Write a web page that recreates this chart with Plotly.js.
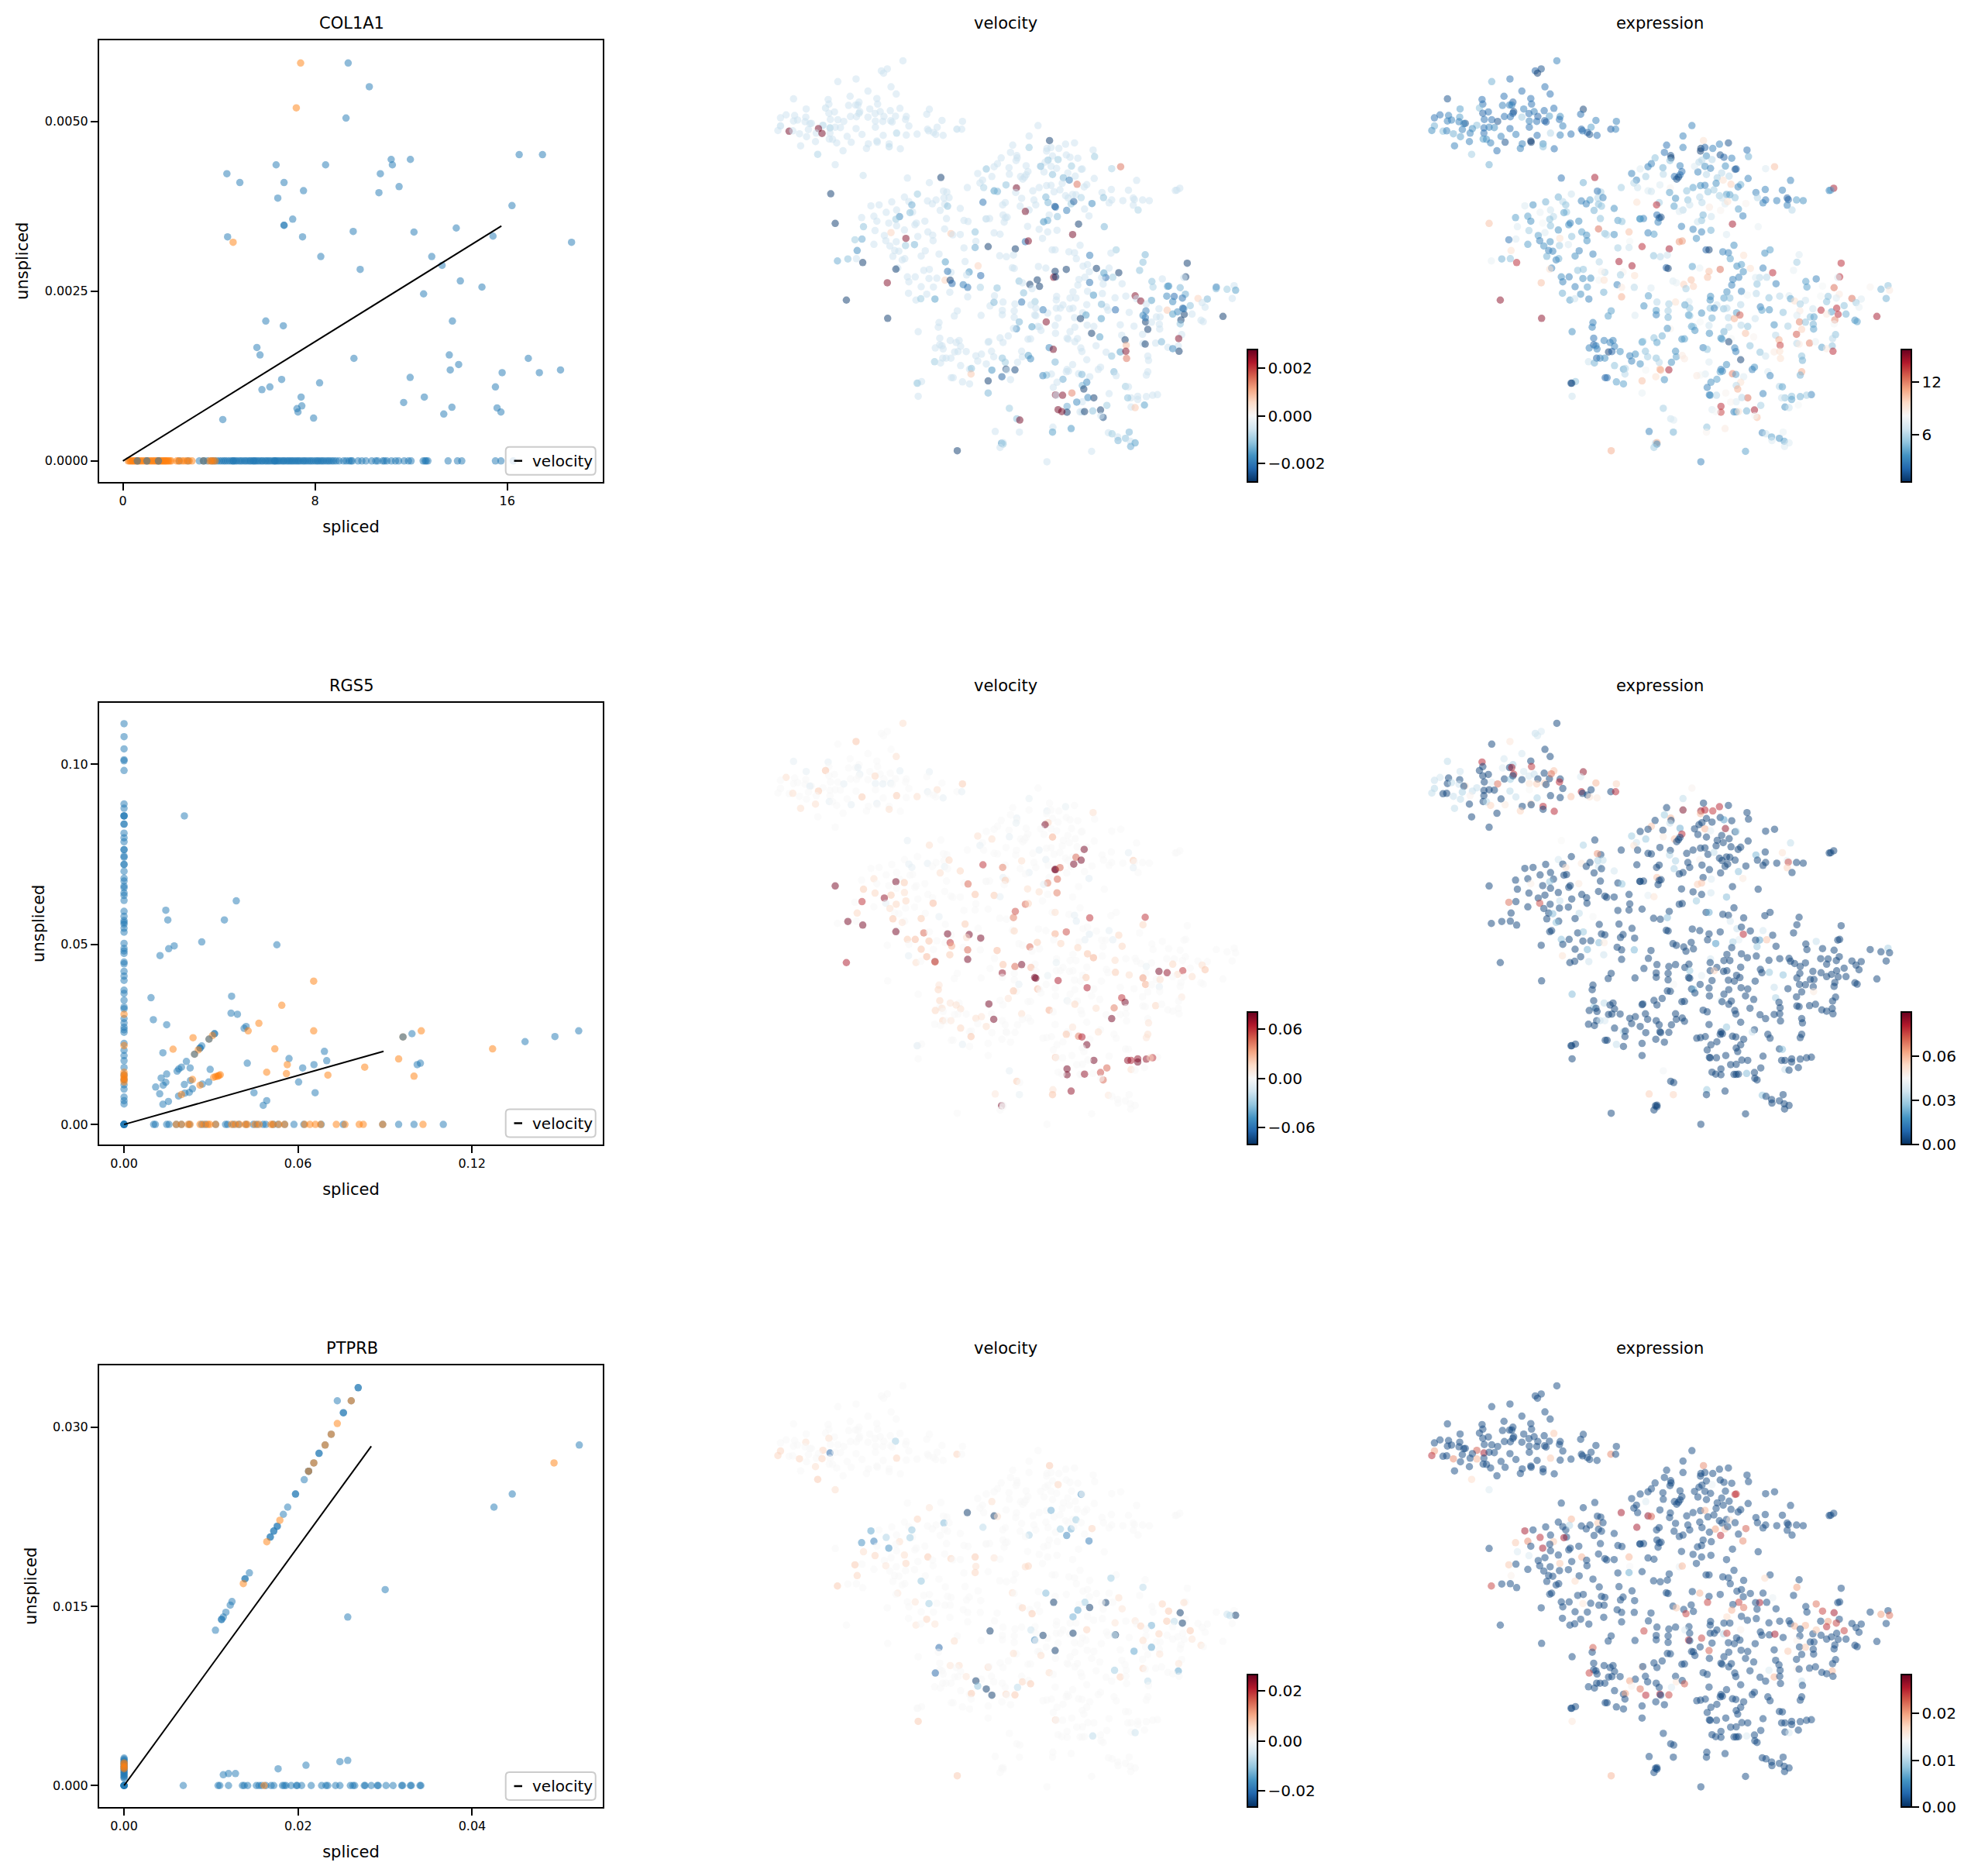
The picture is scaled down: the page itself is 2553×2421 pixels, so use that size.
<!DOCTYPE html>
<html><head><meta charset="utf-8"><script src="https://cdn.plot.ly/plotly-3.0.1.min.js"></script>
<style>html,body{margin:0;padding:0;background:#fff}</style></head><body><div id="chart"></div>
<script>
// ---------- embedding (x, y, COL1A1 expression) ----------
const col1a1Expression=[[436,186,3],[394,211,1.5],[378,217,2],[384,224,1],[261,250,4.5],[310,242,2.5],[404,266,2.5],[342,279,2.5],[418,288,2.5],[294,295,2.5],[142,303,1.5],[235,305,2.5],[366,302,2.5],[318,313,2],[237,319,2.5],[368,319,2.5],[309,322,3],[290,323,3],[176,334,4],[228,331,5],[347,334,3],[428,332,2.5],[507,335,1],[315,322,3],[320,342,1.5],[252,343,2.5],[402,339,2.5],[375,342,3],[237,347,2],[122,352,2.5],[145,354,3],[107,361,2.5],[175,359,4],[361,348,2.5],[295,357,2.5],[311,358,2.5],[318,347,2],[385,357,2],[416,356,4],[445,357,3.5],[342,359,5.5],[500,350,2.5],[241,366,2.5],[261,367,2.5],[277,372,1.5],[142,371,3],[153,368,3],[173,373,3],[190,378,1.5],[186,379,3],[362,371,3],[382,372,2.5],[403,370,2],[407,374,2],[443,366,2.5],[541,369,3],[596,372,3],[107,386,4.5],[221,384,5],[209,394,3.5],[240,392,2.5],[254,390,3],[268,391,3.5],[362,390,2.5],[310,394,2.5],[528,390,4],[452,386,3],[100,400,3.5],[130,402,5],[140,401,3],[182,397,3],[502,396,2],[518,406,2],[505,401,2.5],[524,412,1.5],[581,396,2],[594,396,3],[474,411,2.5],[419,408,6],[445,414,3],[544,415,2.5],[326,412,3],[383,415,2.5],[158,410,4.5],[203,408,3],[240,408,2.5],[286,418,3],[238,426,4],[247,427,3.5],[177,419,4],[201,434,3],[366,432,1],[367,436,1],[297,436,1.5],[258,438,3],[343,441,3],[399,441,3.5],[399,450,5],[161,447,3],[338,455,3],[429,456,2.5],[275,462,2.5],[207,473,5.5],[254,505,4.5],
[799,385,3],[775,417,3],[830,431,9.5],[873,442,3],[897,438,1.5],[731,445,2.5],[775,452,3],[823,455,1],[822,463,1],[855,455,3],[947,460,2.5],[834,452,2],[725,467,2.5],[742,477,1.5],[743,484,1],[875,475,1.5],[885,482,2],[906,485,3],[700,484,5],[740,492,5],[838,478,3.5],[826,491,6],[818,497,6],[853,489,6],[951,480,4.5],[690,502,3],[681,511,3],[767,508,3],[721,514,4.5],[834,510,3.5],[815,527,3],[849,516,3],[889,509,3.5],[1021,511,10.5],[997,517,7],[915,519,1.5],[918,518,2],[806,510,7],[660,518,7],[772,526,2.5],[879,530,6],[637,532,3],[752,541,2.5],[767,536,2.5],[758,549,1.5],[763,543,1.5],[675,541,5.5],[722,534,6],[838,535,6],[899,540,6],[867,545,5.5],[950,547,3],[1064,553,3],[650,552,3],[643,561,6],[713,567,7],[653,575,6.5],[883,552,9.5],[904,565,10],[864,562,3.5],[930,566,4.5],[923,573,3],[802,575,4],[822,569,3.5],[834,568,3],[741,576,8.5],[681,585,7],[690,587,6.5],[739,590,4],[785,585,5],[842,588,5],[858,582,5.5],[971,590,3],[996,581,3],[1042,583,3],[1168,584,3],[1180,577,14.5],[1172,583,4],[755,608,3.5],[873,600,5.5],[892,596,4],[901,597,4],[915,606,5],[880,607,6.5],
[820,604,6],[788,613,5],[826,621,6],[975,606,6],[997,613,2.5],[1027,615,3],[1055,607,2],[1058,612,2],[1080,613,4],[1098,615,3.5],[990,622,3],[711,621,5.5],[651,620,9.5],[704,628,14],[751,632,4],[793,628,6.5],[846,635,9],[888,625,7],[895,618,9.5],[944,624,8.5],[924,641,4],[1055,629,3],[1068,644,6],[775,644,6],[765,648,7],[876,645,8.5],[829,659,4.5],[851,664,6.5],[936,662,3],[660,671,3.5],[669,670,3],[705,659,2.5],[716,666,1.5],[711,668,1.5],[708,681,3],[825,676,5],[814,680,6.5],[908,687,14.5],[977,695,7.5],[771,694,3],[802,703,3],[850,706,4.5],[825,711,3],[681,714,3],[697,718,4],[892,719,7],[811,731,3.5],[765,741,11.5],[773,739,11.5],
[448,546,2.5],[538,544,14.5],[507,560,4.5],[609,575,5.5],[554,589,5.5],[545,586,2.5],[475,595,6.5],[440,604,4.5],[452,618,6],[502,616,3],[525,613,4],[515,625,3],[546,607,6],[560,606,3],[460,628,5],[406,619,4.5],[372,628,3.5],[350,631,7],[548,626,5],[556,632,5],[590,639,3.5],[462,650,5.5],[455,652,4],[419,644,6.5],[391,651,7.5],[536,645,4.5],[553,670,5],[325,667,4],[358,663,4],[366,678,3.5],[427,664,6],[417,672,5],[600,676,4],[611,679,5],[659,671,4],[495,678,3.5],[330,695,7],[398,684,8],[419,692,5],[468,689,3.5],[472,684,3],[254,685,10.5],[361,707,5.5],[440,705,3.5],[548,702,12.5],[404,713,7],[503,711,4],[516,721,3.5],[476,725,5],[565,716,5],[570,720,6],[590,719,3.5],[630,711,10.5],[386,722,4],[390,738,3],[326,733,7],[307,735,2.5],[418,741,3.5],[444,731,9.5],[517,738,3.5],[632,740,8],[630,759,6.5],[358,749,4],[401,754,3.5],[443,753,5.5],[467,750,7],[600,760,5.5],[665,756,14],[738,763,14.5],[313,768,9.5],[414,768,3],[425,770,3],[496,769,3],[533,779,3],[409,786,4.5],[485,785,3.5],[441,793,4.5],[434,797,3],[550,803,6],[603,802,14.5],[696,784,5],[714,787,6],[733,782,6.5],[837,766,2],[845,766,1],[882,772,3],[897,775,3],[912,752,3.5],[938,783,9.5],[1009,766,4],[995,776,3.5],[902,793,4],[1087,781,7],[260,800,7.5],[288,794,4.5],[311,793,5],[328,805,14],[422,822,3],[417,825,9.5],[492,829,5],[507,826,5],[565,835,6],[556,832,8.5],[614,834,8.5],[645,845,9.5],[607,843,5.5],[638,815,14.5],[730,821,2],[735,823,1],[800,817,4],[820,822,7.5],[845,832,10.5],[875,826,12.5],[920,816,3.5],[932,811,4],[956,823,9.5],[990,822,3],[937,833,3.5],[1016,836,14],[1081,804,5.5],[1200,807,14],[1072,829,7.5],
[448,849,3.5],[469,849,3],[506,854,3.5],[527,853,3.5],[549,859,8],[563,859,9.5],[452,864,3],[925,850,3],[909,857,3],[841,850,10.5],[797,858,10.5],[748,862,7],[757,867,7.5],[981,851,6],[1000,850,6],[970,851,7],[1196,849,14],[1191,851,7],[1133,855,3],[1105,863,4],[1108,880,4],[394,867,10.5],[598,873,3],[610,881,9],[644,881,6],[777,872,10],[783,885,5.5],[803,878,10],[906,874,3],[974,871,5],[1025,870,3],[1150,877,8],[1278,880,8.5],[1307,887,4.5],[1326,876,5],[1330,890,9],[1181,882,12.5],[485,879,3],[518,880,4],[689,883,7],[932,893,3],[893,895,3.5],[451,899,4.5],[500,902,3.5],[562,896,4.5],[972,900,6],[948,905,8],[1035,908,6],[1060,907,7],[1195,902,9],[1145,908,8],[610,910,11],[682,907,4],[471,920,4],[484,916,6.5],[522,917,3],[284,920,15],[849,909,3.5],[848,920,3.5],[885,914,4],[901,914,5],[1006,913,5],[1064,916,4],[1075,923,9.5],[1104,921,6.5],[1165,909,5],[1161,925,5],[1187,914,7],[1229,915,12.5],[1254,917,7],[1321,915,4.5],[705,926,6],[755,926,9.5],[791,925,7],[1090,932,5.5],[737,932,5.5],[780,935,4],[866,935,6.5],[930,934,6],[1240,928,5.5],[1208,937,5],[670,938,3.5],[1248,942,7.5],[1188,945,14],[793,945,5],[735,953,5.5],[848,945,5],[859,945,3],[884,947,5],[893,945,6],[983,941,3],[987,951,4],[1007,950,3.5],[1146,951,14],[1124,947,6.5],[1089,953,9],[582,953,4],[703,952,4],[1174,956,4],[1044,958,5],[919,959,4],[928,966,13],[574,969,4],[646,967,7],[703,965,3],[735,973,4.5],[790,966,4],[793,968,5],[825,960,3.5],[853,975,4.5],[897,974,6],[913,977,11],[969,977,6.5],[1117,972,5],[1127,972,4],[1192,964,14],[1213,963,4.5],[1161,963,9],[1237,982,3.5],[1243,986,4],[1296,970,14.5],[395,976,15],[1081,967,7],[1183,981,12],
[533,989,3],[531,1003,3],[1181,993,8],[821,987,8],[1088,987,12],[1020,996,3.5],[1057,1000,5.5],[1104,988,5],[1125,994,4.5],[1126,1009,4],[798,1001,4],[803,1002,5],[845,998,6.5],[898,1003,6],[931,997,6],[949,1001,5],[741,1008,8.5],[733,1007,3.5],[807,1013,3.5],[1094,1010,10],[477,1017,3.5],[846,1022,3.5],[885,1017,4.5],[943,1022,10.5],[965,1033,8.5],[1024,1028,6],[1080,1025,13],[1185,1026,5],[719,1030,4.5],[535,1037,2.5],[563,1044,3],[587,1044,3],[579,1050,3],[697,1036,5],[772,1040,3.5],[779,1039,4],[877,1037,3.5],[880,1040,4],[905,1038,8],[1033,1042,11],[1177,1038,6],[665,1049,4],[667,1047,5],[705,1050,4],[898,1048,1],[535,1057,2],[541,1060,3],[591,1062,3],[523,1067,3],[544,1070,3],[955,1060,5],[1036,1059,13.5],[1081,1053,6],[1087,1055,9],[1115,1052,12],[1131,1048,7.5],[1176,1061,5],[1148,1065,4],[829,1066,3],[840,1071,5],[914,1067,3],[917,1078,3],[575,1079,1],[584,1078,2],[606,1078,3.5],[674,1077,5],[755,1077,3.5],[982,1080,5],[1020,1079,9],[1035,1077,9.5],[1178,1077,14],[1161,1069,9],[647,1086,3.5],[632,1091,3],[703,1098,5],[680,1094,5.5],[757,1094,4],[773,1090,9],[997,1092,6.5],[1094,1092,5],[1096,1105,4.5],[543,1098,2],[552,1098,3],[565,1098,3.5],[637,1107,3],[779,1100,9],[930,1103,1],[1037,1099,9.5],[521,1109,6.5],[537,1113,4.5],[660,1116,3.5],[711,1111,6],[744,1111,3.5],[845,1110,7],[591,1121,5],[892,1118,3.5],[675,1135,8],[713,1132,10.5],[715,1135,11],[737,1134,14.5],[615,1132,4],[620,1130,6],[967,1126,3.5],[961,1133,3],[877,1133,3],[881,1138,3],[1003,1140,7],[1094,1140,11],[619,1147,6],[875,1140,4],[835,1147,7],[822,1150,8],[812,1152,9],[908,1146,12],[917,1148,4],[938,1155,7],[1009,1152,3],[1090,1150,4.5],[702,1155,9.5],[566,1158,2],[571,1158,2.5],[866,1163,4],[725,1164,3.5],[665,1168,10.5],[930,1172,9.5],[850,1172,3.5],[486,1170,5],[476,1175,1],[474,1175,1.5],[596,1171,4],[615,1177,4],[840,1188,3],[918,1182,6],[922,1193,11],[1034,1185,6],[1042,1186,4],[665,1205,7.5],[990,1207,3],[890,1205,8.5],[846,1211,3],[848,1212,3.5],[865,1212,6],[949,1220,12.5],[1120,1210,3],[1107,1212,5.5],[1090,1216,4.5],[1067,1215,5],[1067,1225,4],[1049,1220,5],[1040,1220,6.5],[933,1219,6],[477,1215,6.5],[918,1232,7],[903,1233,8.5],[1085,1242,8],[984,1243,5.5],[877,1246,14],[1049,1248,3.5],[1060,1250,6.5],[853,1256,7],[722,1252,5.5],[967,1257,14.5],[877,1264,13.5],[863,1262,8],[912,1263,3],[918,1263,4],[924,1262,9.5],[946,1260,4.5],[974,1280,10.5],[968,1275,8],[742,1284,6.5],[750,1288,7],[839,1310,5],[888,1314,9],[684,1323,3],[749,1325,4.5],[838,1325,8.5],[988,1327,3],[998,1330,6.5],[1013,1340,4],[1034,1344,3.5],[1044,1325,7.5],[1014,1351,7],[1047,1353,4],[1060,1358,7],[701,1359,6],[705,1357,11],[705,1362,3.5],[697,1372,5.5],[1048,1369,7],[582,1382,11],[943,1384,4],[823,1416,3]];
// ---------- per-panel cells that differ from the panel's usual colour: x, y as read in that panel, value ----------
const col1a1Velocity=[[113,401,.0024],[201,401,.0022],[198,409,.0027],[688,576,.0023],[710,646,.0022],[829,719,.0022],[717,739,.002],[408,731,.002],[361,867,.002],[782,849,.002],[764,988,.002],[987,906,.002],[1001,922,.002],[1098,1039,.002],[963,1075,.002],[965,1099,.0012],[965,1059,.0007],[781,1071,.0023],[842,565,.0012],[951,512,.0012],[372,713,.0005],[520,714,.0006],[590,815,.0005],[508,860,.0005],[1146,914,.0005],[1068,950,.0006],[572,1147,.0006],[989,1250,.0006],[827,1204,.0011],[784,1207,.002],[804,1211,.002],[792,1255,.0022],[802,1262,.0022],[695,1288,.0022],[771,431,-.0024],[497,544,-.0026],[220,594,-.0024],[229,685,-.0026],[845,687,-.0026],[298,804,-.0026],[257,920,-.0026],[362,976,-.0026],[384,824,-.0024],[685,764,-.0026],[617,755,-.0021],[711,741,-.0016],[1119,807,-.0026],[1116,849,-.0026],[785,832,-.0026],[947,835,-.0026],[740,858,-.0026],[745,878,-.0024],[721,872,-.0026],[789,849,-.0022],[814,826,-.0023],[890,823,-.0023],[1013,987,-.0026],[1019,1009,-.0025],[1104,980,-.0026],[1111,964,-.0026],[1209,970,-.0025],[1013,1055,-.0025],[962,1041,-.0026],[1099,1076,-.0026],[877,1022,-.0024],[851,975,-.0024],[663,1133,-.0026],[684,1134,-.002],[617,1168,-.0026],[538,1383,-.0026],[816,1264,-.0025],[860,1262,-.0022],[882,1221,-.0024],[858,1193,-.0024],[899,1257,-.0025],[905,1280,-.002],[778,636,-.0015],[787,633,-.0018],[603,620,-.0016],[833,617,-.0018],[815,645,-.0015],[819,550,-.0015],[878,625,-.0014],[515,832,-.0016],[519,859,-.0021],[527,869,-.0017],[555,869,-.0015],[563,880,-.0016],[598,846,-.0017],[569,834,-.0013],[508,796,-.0012],[284,768,-.0014],[875,866,-.0016],[873,782,-.0015],[913,855,-.0017],[911,837,-.0012],[878,906,-.0013],[905,933,-.001],[701,926,-.0016],[633,927,-.001],[757,950,-.0015],[952,949,-.0017],[1015,952,-.0015],[1007,966,-.0014],[1016,974,-.0015],[870,955,-.0012],[899,982,-.0012],[686,1011,-.0014],[729,1002,-.0012],[697,987,-.001],[898,1032,-.0012],[1020,917,-.0012],[1068,870,-.0014],[1072,878,-.0012],[1101,882,-.001],[1066,909,-.0014],[1075,911,-.0017],[1086,912,-.0014],[1113,903,-.0011],[1117,919,-.0016],[1091,943,-.0014],[1103,936,-.0018],[1113,947,-.0015],[1082,964,-.0012],[1103,993,-.0009],[1191,877,-.0015],[1195,885,-.001],[1241,889,-.0012],[1229,891,-.0008],[1171,918,-.001],[1133,931,-.0009],[1054,1047,-.001],[1082,1069,-.0014],[949,1081,-.0012],[926,1088,-.0009],[774,1068,-.0014],[716,1089,-.0012],[724,1102,-.0014],[785,1109,-.001],[652,1099,-.0009],[657,1113,-.0008],[626,1134,-.0013],[574,1130,-.0009],[652,1153,-.0018],[755,1152,-.0014],[764,1147,-.0009],[812,1160,-.0011],[851,1150,-.001],[867,1173,-.0014],[850,1191,-.001],[863,1220,-.0014],[841,1233,-.0014],[916,1243,-.0008],[815,1247,-.0011],[890,1262,-.0009],[1012,1240,-.0012],[970,1219,-.0009],[964,1185,-.0008],[935,1141,-.001],[617,1205,-.001],[481,1109,-.0008],[439,1175,-.0008],[670,1253,-.0008],[688,1284,-.0009],[780,1325,-.0012],[826,1315,-.0013],[972,1325,-.001],[930,1331,-.0008],[945,1352,-.001],[959,1342,-.0009],[988,1357,-.0012],[977,1369,-.0011],[654,1358,-.0013],[650,1363,-.0008],[477,912,-.0012],[445,916,-.0008],[638,884,-.0009],[597,881,-.0007],[695,862,-.0009],[708,898,-.0009],[735,924,-.0008],[1025,859,-.0009],[1012,781,-.001],[1009,805,-.0009],[999,829,-.0009],[940,766,-.0008],[933,850,-.0008],[1032,877,-.0007],[432,618,-.0011],[437,595,-.0008],[417,652,-.0009],[399,674,-.0014],[386,670,-.0008],[301,695,-.0009],[297,732,-.0011],[279,731,-.0008],[233,801,-.0011],[260,795,-.0009],[429,750,-.001],[407,754,-.0008],[586,759,-.0011],[583,711,-.0009],[512,646,-.0009],[631,585,-.0012],[638,588,-.001],[662,568,-.0009],[611,518,-.0009],[604,575,-.0007],[721,451,-.0008],[885,479,-.0008],[750,508,-.001],[765,490,-.0009],[778,535,-.0009],[794,489,-.0008],[828,511,-.0008],[811,545,-.001],[758,604,-.001],[828,624,-.0008],[851,606,-.0007],[909,606,-.0009],[777,628,-.001],[792,663,-.0009],[767,672,-.0011],[759,680,-.0013],[910,694,-.001],[996,645,-.0007],[929,516,-.0007],[536,396,-.0006],[385,409,-.0007],[185,474,-.0007],[365,450,-.0006],[219,399,-.0008],[88,381,-.0006],[198,384,-.0007],[205,331,-.0005],[291,349,-.0005],[302,538,-.0005]];
const rgs5Velocity=[[229,666,.075],[382,651,.075],[297,716,.05],[354,705,.06],[262,782,.07],[298,793,.075],[384,813,.07],[455,819,.04],[515,823,.07],[519,850,.05],[569,824,.07],[598,838,.075],[478,909,.06],[484,914,.035],[564,906,.07],[564,874,.04],[258,916,.055],[603,597,.05],[653,604,.035],[778,610,.075],[787,612,.07],[800,606,.04],[833,593,.07],[851,582,.07],[837,570,.04],[862,546,.07],[761,465,.07],[792,643,.04],[791,688,.035],[566,659,.04],[768,655,.035],[711,726,.04],[686,750,.045],[680,769,.035],[873,770,.05],[814,816,.045],[1013,767,.05],[722,865,.04],[701,922,.07],[688,930,.04],[654,953,.06],[730,962,.07],[735,966,.075],[794,975,.055],[867,998,.055],[954,1030,.05],[962,1045,.07],[937,1064,.035],[926,1095,.07],[618,1050,.07],[631,1101,.07],[1047,946,.07],[1074,935,.06],[1101,932,.05],[1016,974,.03],[852,1160,.055],[843,1156,.035],[868,1185,.07],[883,1236,.07],[916,1260,.04],[900,1275,.045],[905,1299,.04],[860,1280,.06],[816,1263,.07],[816,1282,.07],[826,1336,.06],[652,1382,.07],[970,1235,.06],[978,1235,.055],[992,1230,.06],[995,1242,.07],[1016,1232,.06],[1037,1227,.05],[401,135,.012],[282,194,.02],[384,243,.012],[206,287,.02],[104,313,.012],[329,307,.015],[552,333,.018],[187,357,.018],[142,413,.012],[297,376,.018],[384,372,.018],[437,374,.012],[487,353,.012],[365,415,.012],[121,365,.012],[179,398,.012],[468,534,.012],[590,503,.012],[625,514,.012],[779,507,.025],[769,456,.015],[516,583,.015],[546,617,.015],[495,624,.012],[702,584,.012],[984,583,.018],[881,427,.012],[327,643,.012],[406,655,.018],[301,677,.018],[329,690,.015],[403,688,.012],[373,706,.018],[382,726,.015],[408,716,.015],[476,722,.022],[583,694,.02],[631,696,.018],[661,646,.018],[717,676,.012],[745,685,.012],[717,723,.015],[284,754,.015],[375,774,.02],[367,740,.012],[446,772,.018],[398,786,.01],[557,791,.018],[682,813,.015],[785,823,.025],[784,752,.012],[947,827,.015],[1009,792,.015],[802,854,.015],[740,851,.018],[955,863,.015],[843,868,.015],[867,888,.02],[877,902,.025],[937,910,.012],[412,840,.018],[432,847,.022],[467,846,.02],[446,873,.02],[526,862,.025],[518,890,.018],[461,897,.022],[434,915,.012],[562,833,.012],[639,878,.022],[653,922,.02],[724,933,.022],[937,948,.018],[863,965,.018],[973,957,.012],[1017,974,.025],[1050,973,.012],[1082,921,.015],[1095,955,.012],[1132,962,.012],[1157,926,.012],[1164,939,.02],[492,1005,.015],[491,988,.01],[680,1010,.02],[742,1006,.022],[667,1032,.01],[837,1052,.015],[889,1065,.012],[1040,1057,.015],[494,1041,.015],[484,1072,.015],[500,1070,.012],[520,1049,.01],[547,1069,.012],[535,1055,.012],[503,1105,.015],[521,1105,.008],[585,1099,.012],[600,1094,.01],[612,1125,.012],[546,1131,.015],[572,1157,.02],[701,1085,.012],[773,1074,.025],[815,1155,.02],[829,1130,.01],[895,1143,.012],[1019,1152,.012],[1016,1162,.01],[1021,1112,.01],[783,1223,.02],[689,1303,.018],[780,1330,.01],[780,1348,.02],[634,1347,.008],[921,1350,.008],[978,1264,.012],[1028,1227,.015],[1105,1029,.008],[124,260,-.007],[212,261,-.007],[156,293,-.007],[288,278,-.007],[294,292,-.007],[393,291,-.007],[467,293,-.007],[167,341,-.008],[250,335,-.007],[330,330,-.007],[349,335,-.007],[367,329,-.007],[551,358,-.007],[503,379,-.007],[463,357,-.007],[215,390,-.007],[271,400,-.007],[335,396,-.008],[720,380,-.006],[813,408,-.006],[764,423,-.007],[689,445,-.007],[686,460,-.006],[672,499,-.007],[748,549,-.007],[760,580,-.007],[597,533,-.007],[971,558,-.007],[983,605,-.007],[412,517,-.007],[433,592,-.007],[463,592,-.007],[423,607,-.007],[512,606,-.006],[718,621,-.007],[654,638,-.007],[871,641,-.008],[758,660,-.007],[645,701,-.007],[357,721,-.007],[491,765,-.007],[834,762,-.007],[839,780,-.008],[873,823,-.008],[860,843,-.007],[932,841,-.007],[921,812,-.007],[414,893,-.007],[788,912,-.006],[696,987,-.007],[766,958,-.006],[1049,997,-.007],[817,1044,-.006],[1016,931,-.006],[438,1188,-.008],[551,1184,-.007],[669,1269,-.007],[695,1347,-.006]];
const ptprbVelocity=[[564,536,-.024],[631,548,-.024],[619,923,-.024],[789,827,-.024],[875,846,-.024],[912,838,-.023],[1102,863,-.024],[1117,903,-.024],[953,933,-.024],[829,929,-.024],[757,937,-.024],[785,987,-.024],[736,954,-.015],[1241,870,-.024],[586,1086,-.024],[612,1113,-.024],[626,1131,-.024],[483,1060,-.018],[492,977,-.018],[218,348,-.018],[296,635,-.014],[327,631,-.016],[320,596,-.012],[364,651,-.014],[505,572,-.01],[432,582,-.009],[359,617,-.007],[420,620,-.008],[603,585,-.006],[386,289,-.008],[447,760,-.009],[466,833,-.008],[761,798,-.01],[843,855,-.012],[830,878,-.011],[815,611,-.015],[871,628,-.016],[827,589,-.011],[801,590,-.008],[837,557,-.008],[775,530,-.011],[849,478,-.014],[719,609,-.007],[927,750,-.008],[1008,780,-.006],[865,833,-.008],[1020,900,-.011],[1089,895,-.006],[938,936,-.005],[724,919,-.005],[985,990,-.012],[1030,975,-.012],[938,1051,-.008],[1097,1055,-.012],[1020,1087,-.006],[589,1103,-.009],[690,1107,-.006],[881,1265,-.006],[989,1255,-.005],[1219,869,-.005],[1230,872,-.006],[88,330,.005],[90,339,.005],[212,285,.004],[156,308,.004],[198,332,.005],[198,360,.005],[139,361,.005],[179,385,.004],[185,428,.006],[229,460,.004],[384,358,.005],[536,345,.005],[771,383,.006],[794,443,.005],[626,500,.004],[467,520,.003],[438,557,.005],[638,550,.004],[878,589,.005],[391,632,.004],[301,664,.004],[329,677,.005],[279,703,.006],[355,708,.003],[403,676,.004],[408,703,.005],[465,680,.006],[519,683,.005],[583,681,.006],[583,713,.004],[586,732,.005],[630,684,.003],[710,712,.004],[717,711,.005],[284,742,.005],[234,777,.006],[387,799,.003],[432,833,.003],[680,799,.004],[704,847,.005],[727,868,.006],[947,814,.004],[955,851,.003],[866,918,.005],[937,897,.003],[1001,905,.005],[988,889,.003],[1057,835,.005],[1069,851,.006],[1114,830,.004],[1076,894,.006],[1057,918,.005],[1128,922,.006],[1132,949,.003],[1158,973,.004],[1007,956,.004],[1049,997,.003],[680,997,.004],[750,1001,.004],[530,955,.004],[461,885,.005],[482,901,.003],[433,903,.003],[616,1041,.005],[543,1036,.004],[520,1035,.003],[1011,1046,.005],[1099,1030,.003],[771,1060,.004],[949,1073,.005],[704,1088,.005],[724,1097,.006],[557,1082,.003],[660,1125,.005],[685,1134,.006],[574,1128,.006],[787,1212,.005],[439,1218,.006],[538,1396,.006]];
const rgs5Expression=[[379,169,.034],[384,176,.036],[394,162,.037],[310,195,.051],[142,260,.033],[294,250,.036],[342,233,.036],[235,261,.08],[366,277,.078],[315,280,.083],[322,292,.08],[291,280,.038],[176,293,.035],[317,270,.03],[346,292,.036],[427,291,.058],[421,300,.07],[373,301,.034],[360,308,.036],[107,321,.034],[122,312,.036],[153,330,.033],[172,334,.035],[105,342,.032],[190,342,.052],[279,336,.07],[265,330,.04],[311,319,.028],[362,331,.052],[381,335,.056],[401,330,.055],[443,325,.08],[500,309,.038],[507,292,.085],[541,330,.06],[596,333,.055],[100,363,.033],[183,360,.03],[203,371,.047],[159,374,.034],[178,383,.033],[209,355,.034],[222,345,.034],[245,389,.032],[311,355,.032],[327,375,.034],[384,379,.03],[258,403,.055],[297,399,.05],[367,397,.053],[338,420,.055],[399,405,.08],[429,422,.08],[162,412,.033],[501,356,.08],[595,358,.08],[475,374,.058],[524,378,.052],[544,379,.05],[360,352,.045],[799,346,.047],[775,380,.033],[775,417,.088],[823,420,.085],[833,420,.08],[855,421,.078],[873,408,.08],[822,433,.06],[725,433,.028],[743,441,.06],[690,471,.058],[767,477,.022],[881,447,.02],[889,478,.085],[834,479,.06],[850,485,.04],[738,460,.034],[637,503,.028],[675,513,.027],[650,522,.035],[644,533,.052],[725,500,.05],[753,512,.058],[772,499,.08],[507,533,.03],[448,517,.045],[1064,525,.033],[1043,557,.052],[1055,582,.04],[1060,588,.075],[1055,606,.055],[969,564,.024],[918,488,.03],[738,565,.032],[755,584,.03],[751,609,.03],[816,578,.047],[924,619,.026],[859,560,.033],[545,561,.065],[555,580,.033],[560,582,.03],[440,579,.036],[591,616,.036],[548,604,.035],[460,606,.052],[501,592,.05],[705,637,.058],[851,643,.038],[936,641,.05],[826,655,.058],[815,661,.056],[695,700,.052],[681,695,.04],[850,689,.036],[892,703,.025],[811,715,.028],[365,659,.048],[416,652,.027],[612,660,.027],[495,658,.05],[307,717,.07],[387,724,.075],[497,753,.033],[532,766,.044],[427,757,.025],[442,715,.034],[733,769,.026],[843,753,.022],[902,780,.037],[433,785,.027],[920,806,.034],[990,811,.036],[938,824,.08],[1002,841,.058],[982,843,.02],[974,862,.028],[509,816,.027],[447,840,.026],[518,873,.024],[549,852,.025],[570,862,.05],[561,890,.035],[644,875,.024],[450,893,.052],[909,847,.03],[929,845,.04],[863,854,.018],[1133,847,.034],[1326,867,.03],[850,907,.036],[524,915,.035],[859,942,.055],[793,944,.028],[823,958,.04],[1007,948,.027],[1044,958,.026],[1126,1006,.05],[750,987,.044],[800,1008,.024],[1020,997,.034],[1024,1030,.03],[478,1019,.025],[877,1042,.038],[563,1047,.033],[535,1062,.028],[554,1105,.034],[567,1105,.037],[615,1140,.032],[596,1184,.034],[892,1129,.027],[961,1145,.035],[1041,1198,.026],[1049,1265,.034],[722,1268,.043],[946,1277,.025],[839,1331,.028],[988,1349,.027],[684,1346,.056],[749,1347,.055]];
const ptprbExpression=[[105,330,.02],[107,338,.025],[159,361,.021],[221,332,.023],[221,361,.019],[241,347,.026],[419,359,.018],[207,428,.017],[254,461,.012],[581,345,.021],[425,290,.018],[829,383,.021],[854,445,.013],[676,500,.012],[913,477,.025],[918,476,.024],[834,530,.019],[609,536,.026],[683,549,.027],[688,549,.023],[475,558,.019],[545,572,.018],[652,583,.026],[470,578,.01],[350,596,.026],[391,617,.025],[325,635,.018],[358,630,.021],[397,651,.026],[426,630,.018],[456,617,.026],[330,664,.012],[361,677,.012],[504,680,.019],[630,681,.019],[771,712,.019],[765,713,.013],[631,712,.014],[632,732,.007],[444,702,.018],[307,705,.018],[313,742,.015],[995,751,.017],[485,760,.017],[260,777,.024],[819,798,.019],[1016,813,.013],[1082,780,.02],[506,833,.016],[849,827,.024],[927,830,.024],[938,846,.022],[980,838,.026],[759,848,.018],[783,869,.024],[906,855,.019],[892,878,.017],[1133,834,.022],[1147,851,.024],[1181,863,.026],[1307,869,.02],[1330,871,.022],[1160,893,.02],[1166,895,.025],[1094,899,.019],[1074,905,.019],[1197,904,.024],[1209,921,.024],[1133,919,.018],[930,919,.015],[779,919,.012],[670,923,.024],[892,929,.024],[884,932,.01],[815,937,.024],[1022,933,.026],[791,954,.025],[1080,955,.015],[1104,975,.018],[533,977,.023],[1057,989,.018],[844,987,.023],[877,611,.025],[890,589,.018],[944,589,.023],[862,590,.02],[936,629,.021],[897,563,.016],[665,1041,.017],[1082,1048,.015],[524,1060,.024],[1006,1051,.012],[1176,1053,.019],[1019,1073,.019],[632,1086,.02],[757,1089,.016],[779,1098,.023],[637,1103,.015],[743,1107,.012],[1095,1087,.011],[660,1112,.022],[620,1127,.02],[675,1131,.025],[711,1126,.026],[738,1133,.024],[477,1217,.016],[1062,1257,.012],[946,1266,.012],[582,1396,.019]];
// usual cell value per panel, and a correction for colours first read too pale
const usualValue={col1a1Velocity:-.0006,rgs5Velocity:0,ptprbVelocity:0,rgs5Expression:.003,ptprbExpression:.0012};
const readingCorrection={col1a1Velocity:[1.3,.0027],rgs5Velocity:[1.2,.078],ptprbVelocity:[1.2,.026]};

// ---------- phase portraits ----------
const genes=["COL1A1","RGS5","PTPRB"];
const colBlue=[[9.38,.00586],[10.26,.00551],[9.29,.00505],[16.5,.00451],[17.47,.00451],[11.17,.00444],[11.97,.00444],[6.38,.00436],[8.44,.00436],[11.22,.00436],[4.33,.00423],[10.72,.00423],[4.87,.0041],[6.71,.0041],[11.5,.00404],[7.52,.00398],[10.66,.00395],[6.45,.00387],[16.2,.00376],[7.07,.00356],[6.71,.00347],[6.71,.00347],[13.88,.00343],[9.59,.00338],[12.12,.00337],[4.36,.0033],[7.48,.0033],[15.41,.00331],[18.68,.00322],[8.24,.00301],[12.86,.00301],[13.29,.00288],[9.88,.00282],[14.05,.00265],[14.95,.00256],[12.52,.00246],[5.95,.00206],[13.72,.00206],[6.68,.00199],[5.58,.00167],[5.71,.00156],[13.59,.00156],[9.62,.00151],[16.88,.00151],[13.98,.00142],[13.63,.00134],[18.22,.00134],[15.79,.0013],[17.34,.0013],[11.96,.00123],[6.61,.0012],[8.19,.00115],[6.12,.00109],[15.51,.00109],[5.79,.00105],[7.42,.00094],[12.55,.00094],[11.69,.00086],[7.45,.00081],[13.7,.00079],[7.25,.00077],[15.58,.00078],[7.29,.00072],[15.74,.00072],[13.36,.00069],[7.94,.00063],[4.16,.00061]];
const colOrange=[[7.4,.00586],[7.22,.0052],[4.59,.00322]];
const colBlueAtZero=[.62,1.0,1.48,2.35,2.71,3.18,3.38,3.52,3.7,3.81,3.92,4.02,4.11,4.2,4.27,4.36,4.45,4.53,4.6,4.68,4.74,4.83,4.9,4.97,5.06,5.12,5.2,5.28,5.33,5.41,5.5,5.56,5.63,5.7,5.78,5.83,5.92,5.98,6.05,6.11,6.19,6.27,6.33,6.4,6.46,6.52,6.6,6.67,6.72,6.8,6.87,6.93,7.0,7.06,7.13,7.2,7.27,7.33,7.4,7.49,7.55,7.62,7.7,7.78,7.85,7.93,8.02,8.09,8.15,8.23,8.3,8.37,8.46,8.54,8.61,8.7,8.78,8.88,9.0,9.19,9.3,9.42,9.5,9.55,9.79,9.95,10.12,10.36,10.53,10.61,10.82,10.89,10.99,11.18,11.35,11.48,11.71,11.89,12.0,12.5,12.58,12.63,12.7,13.54,13.93,14.11,15.51,15.74,16.25];
const colOrangeAtZero=[.22,.28,.33,.38,.42,.47,.52,.57,.63,.7,.76,.83,.9,.97,1.05,1.12,1.18,1.24,1.3,1.36,1.42,1.47,1.53,1.58,1.63,1.67,1.72,1.76,1.8,1.85,1.9,1.96,2.02,2.24,2.32,2.45,2.55,2.66,2.76,2.88,3.35,3.6,3.68,3.75,3.84];
const colLateBlueAtZero=[.6,1.0,1.48,3.35,4.6,5.45,6.33];
const rgsBlue=[[.0208,.0857],[.0387,.0621],[.0144,.0595],[.0151,.0568],[.0346,.0568],[.0268,.0507],[.0527,.0499],[.0173,.0496],[.0154,.0488],[.0124,.0469],[.0093,.0352],[.0371,.0356],[.0369,.0309],[.0391,.0306],[.0101,.0291],[.0147,.0277],[.0421,.0272],[.0414,.0267],[.0312,.0252],[.0312,.0252],[.0993,.0252],[.1568,.026],[.1486,.0244],[.1383,.023],[.0268,.0218],[.0262,.0212],[.0262,.0212],[.0691,.0203],[.0134,.0199],[.0569,.0183],[.0699,.0177],[.0215,.0175],[.0425,.017],[.0655,.0166],[.1022,.017],[.1011,.0166],[.0198,.0159],[.0189,.0154],[.0183,.0148],[.0228,.0157],[.0616,.0157],[.0297,.0153],[.0147,.014],[.0128,.0129],[.0144,.0117],[.0602,.0118],[.0109,.0104],[.0135,.0109],[.0208,.0111],[.0229,.0122],[.027,.0112],[.0292,.0118],[.0236,.0099],[.0123,.0085],[.0225,.0089],[.0448,.0088],[.0659,.0088],[.021,.0087],[.0188,.0079],[.0153,.0064],[.0492,.0066],[.0134,.0056],[.048,.0053]];
const rgsOrange=[[.0654,.0398],[.0544,.0331],[.0465,.0281],[.0654,.026],[.1025,.026],[.0428,.026],[.0238,.0241],[.0305,.0247],[.0293,.0237],[.0962,.0243],[.0256,.0207],[.0169,.0209],[.052,.021],[.1271,.021],[.0243,.0195],[.0947,.0182],[.0563,.0166],[.083,.0159],[.0492,.0145],[.056,.0141],[.0703,.0137],[.1,.0134],[.0309,.0131],[.0316,.0133],[.0323,.0134],[.0327,.0136],[.0332,.0138],[.0236,.0125],[.0262,.0109],[.0198,.0083]];
const rgsLateBlue=[[.0293,.0237],[.0962,.0243],[.0243,.0195]];
const rgsBlueOnY=[.1113,.1077,.1043,.1013,.101,.0983,.089,.0878,.0857,.0857,.0857,.0834,.0834,.0809,.0796,.0785,.0763,.0763,.0745,.0742,.0722,.0722,.0703,.0684,.0676,.0662,.0657,.0643,.0636,.0622,.0592,.0578,.0566,.0561,.0556,.0545,.0534,.0503,.0489,.0482,.0475,.0451,.0446,.0425,.0412,.04,.0373,.0364,.0345,.0326,.0321,.0294,.0282,.027,.0263,.0256,.0225,.0206,.0191,.0177,.0158,.0138,.0124,.011,.0098,.0076,.0066,.0057,0,0,0,0,0,0];
const rgsOrangeOnY=[.0306,.0219,.0145,.0138,.0133,.0128,.0124,.0118];
const rgsBlueOnX=[.0102,.0108,.0147,.0155,.018,.0198,.0225,.0268,.0282,.0316,.035,.0357,.0377,.0395,.0421,.0446,.0459,.048,.0489,.0514,.0531,.0554,.0586,.062,.068,.0756,.0892,.0947,.1,.1101];
const rgsOrangeOnX=[.018,.0198,.0221,.0228,.0262,.0275,.0289,.0296,.0316,.0371,.0384,.0398,.0418,.0425,.0452,.0466,.0507,.0514,.0534,.0554,.0623,.0641,.066,.0678,.0732,.0762,.0811,.0825,.0892,.1031];
const ptpBlue=[[.0269,.0333],[.0269,.0333],[.0245,.0322],[.0261,.0322],[.0252,.0312],[.0252,.0312],[.0238,.0294],[.0231,.0285],[.0523,.0285],[.0224,.0278],[.0224,.0278],[.0218,.027],[.0212,.0263],[.0212,.0263],[.0207,.0256],[.0197,.0244],[.0197,.0244],[.0446,.0244],[.0188,.0233],[.0425,.0233],[.0183,.0227],[.0176,.0217],[.0176,.0217],[.0172,.0213],[.0172,.0213],[.0168,.0208],[.0168,.0208],[.0144,.0178],[.0139,.0173],[.0139,.0173],[.03,.0164],[.0124,.0154],[.0122,.0151],[.0117,.0145],[.0257,.0141],[.0114,.0141],[.0112,.0139],[.0112,.0139],[.0105,.013],[.0257,.0021],[.0248,.002],[.0209,.0017],[.0177,.0014],[.0128,.001],[.012,.001],[.0114,.0009]];
const ptpOrange=[[.0261,.0322],[.0245,.0303],[.0238,.0294],[.0231,.0285],[.0494,.027],[.0218,.027],[.0212,.0263],[.0179,.0222],[.0164,.0204],[.0137,.0169]];
const ptpBlueOnY=[.0023,.0022,.0021,.002,.0019,.0018,.0017,.0016,.0015,.0014,.0013,.0012,.0011,.001,.0009,.0008,.0007,.0006,0,0,0,0,0,0];
const ptpOrangeOnY=[.0019,.0018,.0016,.0015,.0014];
const ptpBlueOnX=[.0068,.0108,.011,.012,.0136,.0138,.0142,.0152,.0155,.0158,.0163,.0169,.0172,.0182,.0184,.0186,.0192,.0198,.0199,.0204,.0215,.0227,.0232,.0234,.0243,.0248,.026,.0263,.0265,.0276,.0277,.0284,.0291,.0292,.0301,.0309,.0319,.032,.0329,.033,.034,.0341];
const ptpOrangeOnX=[.0161];
const velocityLineEnd={COL1A1:[15.76,.00346],RGS5:[.0895,.0203],PTPRB:[.0284,.0284]};

// colour scale (RdBu reversed) and colour-bar data
const rdbuR=["#053061","#2166ac","#4393c3","#92c5de","#d1e5f0","#f7f7f7","#fddbc7","#f4a582","#d6604d","#b2182b","#67001f"];
const colorscale=rdbuR.map((c,i)=>[i/10,c]);
const scaleVelocity=[[-.00278,.00278,[-.002,0,.002],".3f"],[-.0805,.0805,[-.06,0,.06],".2f"],[-.0265,.0265,[-.02,0,.02],".2f"]];
const scaleExpression=[[.67,15.7,[6,12],"d"],[0,.0897,[0,.03,.06],".2f"],[0,.0283,[0,.01,.02],".2f"]];

// ---------- layout geometry ----------
const W=2553,H=2421,PH=570.5,PW=650;
const rowTop=[51.5,906.5,1761.5],colLeft=[128,972,1816];
const readX=[null,x=>1.0622*x+8.3,x=>x];
const readY=[y=>y,y=>.9395*y+59.4,y=>.9395*y+71.3];
const embedRangeX=[33.3,1386.6],embedRangeY=[1477.9,122.1];
const axisRanges=[
 {x:[-.987,19.98],y:[-.00031,.0062],xt:[0,8,16],yt:[0,.0025,.005],xf:"d",yf:".4f"},
 {x:[-.00858,.1651],y:[-.00557,.1172],xt:[0,.06,.12],yt:[0,.05,.1],xf:".2f",yf:".2f"},
 {x:[-.00286,.055],y:[-.0018,.0352],xt:[0,.02,.04],yt:[0,.015,.03],xf:".2f",yf:".3f"}];
const embX=col1a1Expression.map(c=>c[0]),embY=col1a1Expression.map(c=>c[1]);

// join a panel's read cells onto the embedding by nearest cell
function panelCells(list,row,col,usual,correction){
 const [gain,limit]=correction||[1,Infinity];
 const xs=embX.slice(),ys=embY.slice(),vs=embX.map(()=>usual),used=embX.map(()=>false);
 list.forEach(([a,b,raw])=>{
  const v=Math.max(-limit,Math.min(limit,raw*gain));
  const x=readX[col](a),y=readY[row](b);let best=-1,bd=225;
  for(let i=0;i<embX.length;i++){if(used[i])continue;const d=(embX[i]-x)**2+(embY[i]-y)**2;if(d<bd){bd=d;best=i;}}
  if(best>=0){used[best]=true;vs[best]=v;}else{xs.push(x);ys.push(y);vs.push(v);}
 });
 return {xs,ys,vs};
}

const data=[],annotations=[],shapes=[],layout={width:W,height:H,margin:{l:0,r:0,t:0,b:0},showlegend:false,paper_bgcolor:"#fff",plot_bgcolor:"#fff",font:{family:"DejaVu Sans",color:"#000"},annotations,shapes};
const DOT=9.5,ALPHA=.5;
const dom=(l,s,T)=>[l/T,(l+s)/T];
const px=x=>x/W,py=y=>1-y/H;
function addAxes(id,row,col,visible,r){
 const xk="xaxis"+(id==1?"":id),yk="yaxis"+(id==1?"":id);
 const top=rowTop[row];
 const common={domain:null,showgrid:false,zeroline:false};
 layout[xk]=Object.assign({},common,{domain:dom(colLeft[col],PW,W),anchor:"y"+(id==1?"":id)});
 layout[yk]=Object.assign({},common,{domain:[1-(top+PH)/H,1-top/H],anchor:"x"+(id==1?"":id)});
 if(visible){
  const ax={showline:true,mirror:true,linewidth:2,linecolor:"#000",ticks:"outside",ticklen:9,tickwidth:2,tickcolor:"#000",tickfont:{size:16},tickmode:"array"};
  Object.assign(layout[xk],ax,{range:r.x,tickvals:r.xt,tickformat:r.xf,title:{text:"spliced",font:{size:21},standoff:17.5}});
  Object.assign(layout[yk],ax,{range:r.y,tickvals:r.yt,tickformat:r.yf,title:{text:"unspliced",font:{size:21},standoff:15}});
 }else{
  layout[xk].visible=false;layout[yk].visible=false;
  layout[xk].range=embedRangeX;layout[yk].range=embedRangeY;
 }
}
function dots(id,xs,ys,color){data.push({type:"scatter",mode:"markers",xaxis:"x"+(id==1?"":id),yaxis:"y"+(id==1?"":id),x:xs,y:ys,hoverinfo:"skip",marker:{size:DOT,color,opacity:ALPHA,line:{width:0}}});}
function title(text,col,row){annotations.push({text,xref:"paper",yref:"paper",x:(colLeft[col]+PW/2+1)/W,y:1-(rowTop[row]-21.5)/H,xanchor:"center",yanchor:"middle",showarrow:false,font:{size:21}});}
function legendBox(cy){
 const l=652.7,r=768.7,t=cy-18,b=cy+18,c=5;
 const xf=v=>px(v).toFixed(5),yf=v=>py(v).toFixed(5);
 shapes.push({type:"path",xref:"paper",yref:"paper",path:`M${xf(l+c)} ${yf(t)}L${xf(r-c)} ${yf(t)}Q${xf(r)} ${yf(t)} ${xf(r)} ${yf(t+c)}L${xf(r)} ${yf(b-c)}Q${xf(r)} ${yf(b)} ${xf(r-c)} ${yf(b)}L${xf(l+c)} ${yf(b)}Q${xf(l)} ${yf(b)} ${xf(l)} ${yf(b-c)}L${xf(l)} ${yf(t+c)}Q${xf(l)} ${yf(t)} ${xf(l+c)} ${yf(t)}Z`,fillcolor:"rgba(255,255,255,.8)",line:{color:"#cccccc",width:2}});
 shapes.push({type:"line",xref:"paper",yref:"paper",x0:px(663.5),x1:px(674),y0:py(cy),y1:py(cy),line:{color:"#000",width:2.5}});
 annotations.push({text:"velocity",xref:"paper",yref:"paper",x:px(684.5),y:py(cy),xanchor:"left",yanchor:"middle",showarrow:false,font:{size:20}});
}
const blue="#1f77b4",orange="#ff7f0e";
const scatterSets=[
 {blue:colBlue.concat(colBlueAtZero.map(x=>[x,0])),orange:colOrange.concat(colOrangeAtZero.map(x=>[x,0])),late:colLateBlueAtZero.map(x=>[x,0])},
 {blue:rgsBlue.concat(rgsBlueOnY.map(y=>[0,y]),rgsBlueOnX.map(x=>[x,0])),orange:rgsOrange.concat(rgsOrangeOnY.map(y=>[0,y]),rgsOrangeOnX.map(x=>[x,0])),late:rgsLateBlue},
 {blue:ptpBlue.concat(ptpBlueOnY.map(y=>[0,y]),ptpBlueOnX.map(x=>[x,0])),orange:ptpOrange.concat(ptpOrangeOnY.map(y=>[0,y]),ptpOrangeOnX.map(x=>[x,0])),late:[]}];
const velLists=[[col1a1Velocity,usualValue.col1a1Velocity,readingCorrection.col1a1Velocity],[rgs5Velocity,usualValue.rgs5Velocity,readingCorrection.rgs5Velocity],[ptprbVelocity,usualValue.ptprbVelocity,readingCorrection.ptprbVelocity]];
const expLists=[null,[rgs5Expression,usualValue.rgs5Expression],[ptprbExpression,usualValue.ptprbExpression]];
const legendY=[594.7,1449.5,2305];

function embed(id,row,col,cells,sc){
 const side=col==1?colLeft[1]+638:colLeft[2]+638;
 data.push({type:"scatter",mode:"markers",xaxis:"x"+id,yaxis:"y"+id,x:cells.xs,y:cells.ys,hoverinfo:"skip",
  marker:{size:DOT,opacity:ALPHA,line:{width:0},color:cells.vs,colorscale,cmin:sc[0],cmax:sc[1],showscale:true,
   colorbar:{x:side/W,xanchor:"left",xref:"paper",yref:"paper",y:1-(rowTop[row]+PH)/H,yanchor:"bottom",lenmode:"pixels",len:171,thicknessmode:"pixels",thickness:13,xpad:0,ypad:0,outlinewidth:2,outlinecolor:"#000",borderwidth:0,ticks:"outside",ticklen:9,tickwidth:2,tickcolor:"#000",tickmode:"array",tickvals:sc[2],tickformat:sc[3],tickfont:{size:20}}}});
}

genes.forEach((g,row)=>{
 const id=row*3+1;
 addAxes(id,row,0,true,axisRanges[row]);
 const s=scatterSets[row];
 dots(id,s.blue.map(p=>p[0]),s.blue.map(p=>p[1]),blue);
 dots(id,s.orange.map(p=>p[0]),s.orange.map(p=>p[1]),orange);
 if(s.late.length)dots(id,s.late.map(p=>p[0]),s.late.map(p=>p[1]),blue);
 const e=velocityLineEnd[g];
 data.push({type:"scatter",mode:"lines",xaxis:"x"+(id==1?"":id),yaxis:"y"+(id==1?"":id),x:[0,e[0]],y:[0,e[1]],line:{color:"#000",width:2},hoverinfo:"skip"});
 title(g,0,row);
 legendBox(legendY[row]);

 addAxes(id+1,row,1,false);
 embed(id+1,row,1,panelCells(velLists[row][0],row,1,velLists[row][1],velLists[row][2]),scaleVelocity[row]);
 title("velocity",1,row);

 addAxes(id+2,row,2,false);
 const cells=expLists[row]?panelCells(expLists[row][0],row,2,expLists[row][1]):{xs:embX,ys:embY,vs:col1a1Expression.map(c=>c[2])};
 embed(id+2,row,2,cells,scaleExpression[row]);
 title("expression",2,row);
});
Plotly.newPlot("chart",data,layout,{staticPlot:true,displayModeBar:false});
</script></body></html>
